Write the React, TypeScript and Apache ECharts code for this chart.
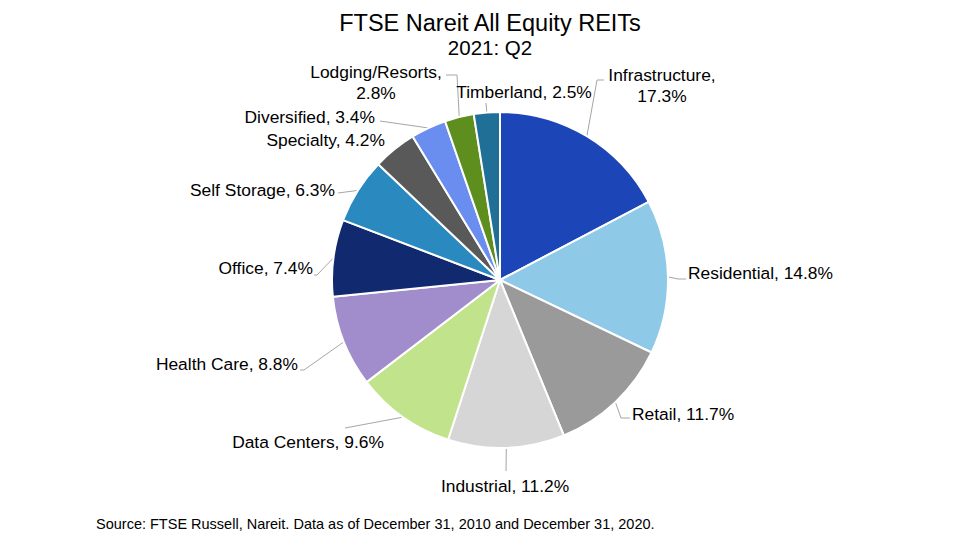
import React, { useEffect, useRef } from "react";
import * as echarts from "echarts";

const categories = [
  "Infrastructure",
  "Residential",
  "Retail",
  "Industrial",
  "Data Centers",
  "Health Care",
  "Office",
  "Self Storage",
  "Specialty",
  "Diversified",
  "Lodging/Resorts",
  "Timberland",
];
const values = [17.3, 14.8, 11.7, 11.2, 9.6, 8.8, 7.4, 6.3, 4.2, 3.4, 2.8, 2.5];
const colors = [
  "#1c45b8",
  "#8ecae8",
  "#9a9a9a",
  "#d6d6d6",
  "#c1e38b",
  "#a28dcc",
  "#112a6f",
  "#2a8abf",
  "#595959",
  "#6a8ef0",
  "#5e8f1e",
  "#1f6f96",
];
const twoLineLabels = ["Infrastructure", "Lodging/Resorts"];

const titleText = "FTSE Nareit All Equity REITs";
const subtitleText = "2021: Q2";
const sourceText =
  "Source: FTSE Russell, Nareit. Data as of December 31, 2010 and December 31, 2020.";

// label placement (layout only)
const labelPlacement: Record<
  string,
  { x: number; y: number; align: string; pts: number[][]; hideLine?: boolean }
> = {
  Infrastructure: { x: 662, y: 85, align: "center", pts: [[597, 80], [604, 80]] },
  Residential: { x: 688, y: 273, align: "left", pts: [[678, 279], [686, 279]] },
  Retail: { x: 632, y: 414, align: "left", pts: [[621, 418], [630, 418]] },
  Industrial: { x: 505, y: 486, align: "center", pts: [[506, 471]] },
  "Data Centers": { x: 308, y: 442, align: "center", pts: [[345, 428]] },
  "Health Care": { x: 298, y: 364, align: "right", pts: [[304, 370], [300, 370]] },
  Office: { x: 313, y: 268, align: "right", pts: [[317, 275], [314, 275]] },
  "Self Storage": { x: 335, y: 190, align: "right", pts: [[338, 193]] },
  Specialty: { x: 385, y: 140, align: "right", pts: [], hideLine: true },
  Diversified: { x: 375, y: 117, align: "right", pts: [[380, 121]] },
  "Lodging/Resorts": { x: 376, y: 82, align: "center", pts: [[457, 75], [446, 75]] },
  Timberland: { x: 524, y: 92, align: "center", pts: [[486, 103]] },
};

const FONT = "'Liberation Sans', Arial, Helvetica, sans-serif";

export default function App() {
  const ref = useRef<HTMLDivElement>(null);

  useEffect(() => {
    if (!ref.current) return;
    const chart = echarts.init(ref.current, undefined, { renderer: "svg" });
    const data = categories.map((name, i) => ({
      name,
      value: values[i],
      itemStyle: { color: colors[i] },
      labelLine: { show: !labelPlacement[name].hideLine },
    }));
    chart.setOption({
      animation: false,
      backgroundColor: "#ffffff",
      title: {
        text: titleText,
        subtext: subtitleText,
        left: "center",
        top: 6,
        itemGap: 2,
        textStyle: {
          fontFamily: FONT,
          fontSize: 23.5,
          fontWeight: "normal",
          color: "#000000",
        },
        subtextStyle: {
          fontFamily: FONT,
          fontSize: 20.5,
          color: "#000000",
        },
      },
      graphic: [
        {
          type: "text",
          left: 96,
          top: 516,
          style: {
            text: sourceText,
            fontFamily: FONT,
            fontSize: 14.5,
            fill: "#000000",
          },
        },
      ],
      series: [
        {
          type: "pie",
          center: [500, 280],
          radius: 168,
          startAngle: 90,
          clockwise: true,
          data,
          itemStyle: { borderColor: "#ffffff", borderWidth: 2 },
          label: {
            show: true,
            position: "outside",
            fontFamily: FONT,
            fontSize: 17.4,
            lineHeight: 21,
            color: "#000000",
            formatter: (p: any) =>
              twoLineLabels.includes(p.name)
                ? `${p.name},\n${Number(p.value).toFixed(1)}%`
                : `${p.name}, ${Number(p.value).toFixed(1)}%`,
          },
          labelLine: {
            show: true,
            length: 10,
            length2: 10,
            lineStyle: { color: "#a6a6a6", width: 1 },
          },
          labelLayout: (params: any) => {
            const name = categories[params.dataIndex];
            const L = labelPlacement[name];
            if (!L) return {};
            const first =
              params.labelLinePoints && params.labelLinePoints.length
                ? params.labelLinePoints[0]
                : null;
            const res: any = {
              x: L.x,
              y: L.y,
              align: L.align,
              verticalAlign: "middle",
              hideOverlap: false,
              moveOverlap: false,
            };
            if (first && !L.hideLine) {
              res.labelLinePoints = [first, ...L.pts];
            }
            return res;
          },
        },
      ],
    });
    return () => chart.dispose();
  }, []);

  return (
    <div
      ref={ref}
      style={{ position: "fixed", left: 0, top: 0, width: 980, height: 551 }}
    />
  );
}
